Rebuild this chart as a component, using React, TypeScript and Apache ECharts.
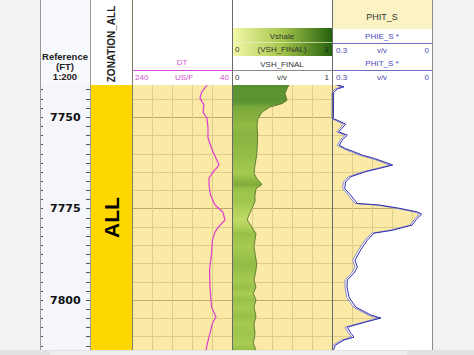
import React, { useEffect, useRef } from 'react';
import * as echarts from 'echarts';

// ---------- depth axis ----------
const depthMin = 7740;
const depthMax = 7815;
const depthTickStep = 2.5;
const depthLabelEvery = 25;

// ---------- zonation ----------
const zoneNames = ['ALL'];
const zoneTops = [7741.2];
const zoneBases = [7813.7];

// ---------- DT (US/F) ----------
const dtDepths = [7741.2, 7743.2, 7744.8, 7746.7, 7748.6, 7750.3, 7753, 7755.7, 7758.5, 7761.2, 7763.1, 7765, 7766.7, 7768.6, 7771.3, 7774, 7776, 7778.1, 7780, 7781.4, 7783.6, 7787.2, 7791.8, 7796.4, 7801.9, 7804.6, 7806.3, 7809, 7811.7, 7813.7];
const dtValues = [90, 101, 104, 96, 98, 90, 88, 88, 81, 72, 66, 78, 86, 86, 83, 74, 58, 54, 67, 74, 79, 81, 85, 84, 81, 72, 79, 84, 89, 92];

// ---------- VSH_FINAL (v/v) ----------
const vshDepths = [7741.2, 7742.2, 7743.5, 7745.4, 7746.3, 7747.2, 7748.6, 7750.4, 7752.2, 7754.9, 7757.7, 7760.4, 7763.1, 7765.4, 7766.7, 7768.4, 7769.5, 7771.3, 7773.1, 7774.9, 7777.2, 7778.1, 7780, 7781.8, 7783.6, 7785.4, 7787.2, 7790, 7791.8, 7794.5, 7796.4, 7798.2, 7800, 7801.8, 7804.6, 7806.4, 7809.1, 7811.8, 7813.7];
const vshValues = [0.57, 0.55, 0.53, 0.55, 0.5, 0.38, 0.3, 0.26, 0.25, 0.257, 0.253, 0.247, 0.23, 0.22, 0.247, 0.3, 0.24, 0.23, 0.23, 0.2, 0.163, 0.153, 0.197, 0.24, 0.23, 0.22, 0.23, 0.247, 0.24, 0.22, 0.24, 0.213, 0.24, 0.22, 0.24, 0.22, 0.23, 0.213, 0.24];

// ---------- PHIT_S / PHIE_S (v/v) ----------
const phiDepths = [7741.2, 7741.7, 7742.3, 7743.2, 7750.4, 7750.8, 7751.9, 7753, 7754, 7754.9, 7756.3, 7757.7, 7758.6, 7759.5, 7760.4, 7761.3, 7762.4, 7763.1, 7764, 7764.9, 7766.3, 7767.7, 7769.5, 7771.3, 7773.6, 7774, 7774.9, 7775.9, 7776.5, 7777.7, 7779.5, 7780.9, 7781.7, 7783.6, 7786.3, 7789.1, 7791, 7792.6, 7794.5, 7796.4, 7799.2, 7801.9, 7804.1, 7804.9, 7806, 7807.4, 7809, 7810.1, 7810.9, 7812.3, 7813.7];
const phitValues = [0.29, 0.271, 0.291, 0.3, 0.3, 0.291, 0.266, 0.276, 0.286, 0.261, 0.276, 0.284, 0.266, 0.241, 0.216, 0.181, 0.146, 0.126, 0.166, 0.206, 0.251, 0.266, 0.268, 0.251, 0.231, 0.166, 0.106, 0.051, 0.038, 0.051, 0.066, 0.126, 0.181, 0.201, 0.221, 0.238, 0.231, 0.241, 0.261, 0.261, 0.256, 0.236, 0.191, 0.161, 0.206, 0.261, 0.251, 0.241, 0.271, 0.296, 0.3];
const phieValues = [0.283, 0.264, 0.284, 0.295, 0.296, 0.285, 0.259, 0.27, 0.28, 0.254, 0.27, 0.278, 0.259, 0.233, 0.208, 0.172, 0.138, 0.118, 0.158, 0.199, 0.244, 0.259, 0.262, 0.244, 0.224, 0.158, 0.098, 0.044, 0.031, 0.045, 0.06, 0.118, 0.174, 0.194, 0.214, 0.231, 0.224, 0.234, 0.254, 0.255, 0.249, 0.229, 0.183, 0.153, 0.199, 0.254, 0.244, 0.234, 0.264, 0.29, 0.296];

// ---------- layout / style ----------
const PX_PER_FT = 3.67;
const GRID_TOP = 117.3 - 10 * PX_PER_FT;
const GRID_H = (depthMax - depthMin) * PX_PER_FT;
const HEADER_H = 85;
const FONT = '"Liberation Sans", Arial, sans-serif';
const BODY_YELLOW = '#faeaa6';
const GRID_MINOR = '#ddcc8e';
const GRID_MAJOR = '#bba96f';

const vshPalette: [number, string][] = [
  [0, '#eef5a0'], [0.18, '#b5d45d'], [0.215, '#a9cc53'], [0.245, '#95be47'],
  [0.265, '#83ae3e'], [0.4, '#78a83b'], [0.55, '#5a9232'], [1, '#1f5a0a'],
];
function hexToRgb(h: string) {
  const n = parseInt(h.slice(1), 16);
  return [(n >> 16) & 255, (n >> 8) & 255, n & 255];
}
function vshColor(v: number) {
  for (let i = 1; i < vshPalette.length; i++) {
    if (v <= vshPalette[i][0]) {
      const [a, ca] = vshPalette[i - 1];
      const [b, cb] = vshPalette[i];
      const t = Math.max(0, Math.min(1, (v - a) / (b - a)));
      const A = hexToRgb(ca), B = hexToRgb(cb);
      return `rgb(${A.map((x, k) => Math.round(x + (B[k] - x) * t)).join(',')})`;
    }
  }
  return vshPalette[vshPalette.length - 1][1];
}

const txt = (text: string, x: number, y: number, color: string, size: number, o: any = {}) => ({
  type: 'text', x, y, z: 130, silent: true, rotation: o.rot || 0,
  style: {
    text, fill: color,
    font: `${o.bold ? 'bold ' : ''}${size}px ${FONT}`,
    textAlign: o.align || 'center', align: o.align || 'center',
    textVerticalAlign: 'middle', verticalAlign: 'middle',
  },
});
const hline = (x1: number, x2: number, y: number, stroke: string, z = 125) => ({
  type: 'line', z, silent: true, shape: { x1, y1: y, x2, y2: y }, style: { stroke, lineWidth: 1 },
});
const vline = (x: number, y1: number, y2: number, stroke: string) => ({
  type: 'line', z: 140, silent: true, shape: { x1: x, y1, x2: x, y2 }, style: { stroke, lineWidth: 1 },
});
const rect = (x: number, y: number, w: number, h: number, fill: any, z = 110) => ({
  type: 'rect', z, silent: true, shape: { x, y, width: w, height: h }, style: { fill },
});

export default function App() {
  const ref = useRef<HTMLDivElement>(null);
  useEffect(() => {
    if (!ref.current) return;
    const chart = echarts.init(ref.current, undefined, { renderer: 'svg' });

    const gridBase = { top: GRID_TOP, height: GRID_H, show: true, borderWidth: 0, containLabel: false };
    const hiddenY = (gridIndex: number, extra: any = {}) => ({
      type: 'value', gridIndex, min: depthMin, max: depthMax, inverse: true,
      axisLine: { show: false }, axisTick: { show: false }, axisLabel: { show: false },
      splitLine: { show: false }, ...extra,
    });
    const gridY = (gridIndex: number) => hiddenY(gridIndex, {
      interval: 5,
      splitLine: { show: true, lineStyle: { width: 1, color: [GRID_MINOR, GRID_MINOR, GRID_MAJOR, GRID_MINOR, GRID_MINOR] } },
    });
    const gridX = (gridIndex: number, min: number, max: number, interval: number, inverse: boolean) => ({
      type: 'value', gridIndex, min, max, interval, inverse,
      axisLine: { show: false }, axisTick: { show: false }, axisLabel: { show: false },
      splitLine: { show: true, lineStyle: { color: GRID_MINOR, width: 1 } },
    });

    const option: any = {
      animation: false,
      backgroundColor: '#ffffff',
      grid: [
        { ...gridBase, left: 40, width: 50, backgroundColor: '#f4f6fb' },
        { ...gridBase, left: 90, width: 42, backgroundColor: '#ffffff' },
        { ...gridBase, left: 132, width: 100, backgroundColor: BODY_YELLOW },
        { ...gridBase, left: 232, width: 100, backgroundColor: BODY_YELLOW },
        { ...gridBase, left: 332, width: 100, backgroundColor: BODY_YELLOW },
      ],
      xAxis: [
        { type: 'value', gridIndex: 0, min: 0, max: 1, show: false },
        { type: 'value', gridIndex: 1, min: 0, max: 1, show: false },
        gridX(2, 40, 240, 40, true),
        gridX(3, 0, 1, 0.2, false),
        gridX(4, 0, 0.3, 0.06, true),
      ],
      yAxis: [
        hiddenY(0, {
          position: 'left', interval: depthTickStep,
          axisTick: { show: true, inside: true, length: 3, lineStyle: { color: '#555' } },
          axisLabel: {
            show: true, inside: true, margin: 10, color: '#111', fontWeight: 'bold',
            fontSize: 11, fontFamily: '"DejaVu Sans", sans-serif',
            formatter: (v: number) => (Math.abs(v % depthLabelEvery) < 1e-6 ? String(v) : ''),
          },
        }),
        hiddenY(0, {
          position: 'right', interval: depthTickStep,
          axisTick: { show: true, inside: true, length: 4, lineStyle: { color: '#555' } },
        }),
        hiddenY(1),
        gridY(2),
        gridY(3),
        gridY(4),
      ],
      series: [
        {
          type: 'custom', xAxisIndex: 1, yAxisIndex: 2, silent: true,
          data: zoneNames.map((_, i) => [0, zoneTops[i]]),
          renderItem: (params: any, api: any) => {
            const i = params.dataIndex;
            const p0 = api.coord([0, zoneTops[i]]);
            const p1 = api.coord([1, zoneBases[i]]);
            return {
              type: 'group',
              children: [
                { type: 'rect', shape: { x: p0[0], y: p0[1], width: p1[0] - p0[0], height: p1[1] - p0[1] }, style: { fill: '#ffd700' } },
                {
                  type: 'text', x: (p0[0] + p1[0]) / 2, y: (p0[1] + p1[1]) / 2, rotation: Math.PI / 2,
                  style: { text: zoneNames[i], fill: '#000', font: `bold 21px ${FONT}`, align: 'center', verticalAlign: 'middle', textAlign: 'center', textVerticalAlign: 'middle' },
                },
              ],
            };
          },
        },
        {
          type: 'line', name: 'DT', xAxisIndex: 2, yAxisIndex: 3, symbol: 'none', silent: true,
          data: dtDepths.map((d, i) => [dtValues[i], d]),
          lineStyle: { color: '#e23bd0', width: 1.2 },
        },
        {
          type: 'custom', xAxisIndex: 3, yAxisIndex: 4, silent: true,
          data: [[0, vshDepths[0]]],
          renderItem: (_p: any, api: any) => {
            const pts = vshDepths.map((d, i) => api.coord([vshValues[i], d]));
            const top = api.coord([0, vshDepths[0]]);
            const bot = api.coord([0, vshDepths[vshDepths.length - 1]]);
            const span = bot[1] - top[1];
            const stops = vshDepths.map((_, i) => ({ offset: (pts[i][1] - top[1]) / span, color: vshColor(vshValues[i]) }));
            return {
              type: 'polygon',
              shape: { points: [top, ...pts, bot] },
              style: { fill: new echarts.graphic.LinearGradient(0, 0, 0, 1, stops), stroke: 'none' },
            };
          },
        },
        {
          type: 'line', name: 'VSH_FINAL', xAxisIndex: 3, yAxisIndex: 4, symbol: 'none', silent: true,
          data: vshDepths.map((d, i) => [vshValues[i], d]),
          lineStyle: { color: '#4a6a22', width: 0.8 },
        },
        {
          type: 'custom', xAxisIndex: 4, yAxisIndex: 5, silent: true,
          data: [[0, phiDepths[0]]],
          renderItem: (_p: any, api: any) => {
            const pts = phiDepths.map((d, i) => api.coord([phitValues[i], d]));
            const last = api.coord([0, phiDepths[phiDepths.length - 1]]);
            const first = api.coord([0, phiDepths[0]]);
            return { type: 'polygon', shape: { points: [...pts, last, first] }, style: { fill: '#ffffff', stroke: 'none' } };
          },
        },
        {
          type: 'line', name: 'PHIT_S', xAxisIndex: 4, yAxisIndex: 5, symbol: 'none', silent: true,
          data: phiDepths.map((d, i) => [phitValues[i], d]),
          lineStyle: { color: '#8a8acb', width: 1 },
        },
        {
          type: 'line', name: 'PHIE_S', xAxisIndex: 4, yAxisIndex: 5, symbol: 'none', silent: true,
          data: phiDepths.map((d, i) => [phieValues[i], d]),
          lineStyle: { color: '#2f2fb0', width: 1 },
        },
      ],
      graphic: {
        elements: [
          rect(0, 0, 40, 355, '#f2f2f2', 105),
          rect(432, 0, 42, 355, '#f3f3f3', 105),
          rect(40, 0, 392, HEADER_H, '#ffffff'),
          rect(40, 0, 50, HEADER_H, '#f8f9fc', 112),
          rect(332, 0, 100, 29, '#fcf3c4', 112),
          rect(232, 28, 100, 28, new echarts.graphic.LinearGradient(0, 0, 1, 0, [
            { offset: 0, color: '#f5f9aa' }, { offset: 0.5, color: '#a5c64b' }, { offset: 1, color: '#23600d' },
          ]), 112),
          hline(232, 332, 42.5, 'rgba(235,240,200,0.7)'),
          txt('Reference', 65, 56, '#222', 9.5, { bold: true }),
          txt('(FT)', 65, 66, '#222', 9.5, { bold: true }),
          txt('1:200', 65, 76, '#222', 9.5, { bold: true }),
          txt('ZONATION_ALL', 111, 44, '#222', 10, { bold: true, rot: Math.PI / 2 }),
          txt('DT', 182, 62, '#d64fd6', 8),
          hline(132, 232, 70.5, '#d84ad8'),
          txt('240', 135, 77, '#d64fd6', 8, { align: 'left' }),
          txt('US/F', 184, 77, '#d64fd6', 8),
          txt('40', 229, 77, '#d64fd6', 8, { align: 'right' }),
          txt('Vshale', 282, 36, '#333', 8),
          txt('0', 235, 49, '#333', 8, { align: 'left' }),
          txt('(VSH_FINAL)', 282, 49, '#333', 8),
          txt('1', 329, 49, '#222', 8, { align: 'right' }),
          txt('VSH_FINAL', 282, 64, '#333', 8),
          hline(232, 332, 70.5, '#8a8a8a'),
          txt('0', 235, 77, '#333', 8, { align: 'left' }),
          txt('v/v', 282, 77, '#333', 8),
          txt('1', 329, 77, '#333', 8, { align: 'right' }),
          txt('PHIT_S', 382, 17, '#333', 9),
          txt('PHIE_S *', 382, 36, '#4848c0', 8),
          hline(332, 432, 43.5, '#6b6bbf'),
          txt('0.3', 336, 50, '#4848b0', 8, { align: 'left' }),
          txt('v/v', 382, 50, '#4848b0', 8),
          txt('0', 429, 50, '#4848b0', 8, { align: 'right' }),
          txt('PHIT_S *', 382, 63, '#4848c0', 8),
          hline(332, 432, 70.5, '#6b6bbf'),
          txt('0.3', 336, 77, '#4848b0', 8, { align: 'left' }),
          txt('v/v', 382, 77, '#4848b0', 8),
          txt('0', 429, 77, '#4848b0', 8, { align: 'right' }),
          vline(40.5, 0, 351, '#9a9a9a'),
          vline(90.5, 0, 351, '#9a9a9a'),
          vline(132.5, 0, 351, '#7d7d6a'),
          vline(232.5, 0, 351, '#6a6a6a'),
          vline(332.5, 0, 351, '#6a6a6a'),
          vline(432.5, 0, 351, '#8a8a8a'),
          rect(0, 350, 474, 5, '#e2e2e2', 150),
          rect(50, 351, 357, 4, '#eeeeee', 151),
        ],
      },
    };
    chart.setOption(option);
    return () => chart.dispose();
  }, []);
  return <div ref={ref} style={{ position: 'fixed', left: 0, top: 0, width: 474, height: 355 }} />;
}
